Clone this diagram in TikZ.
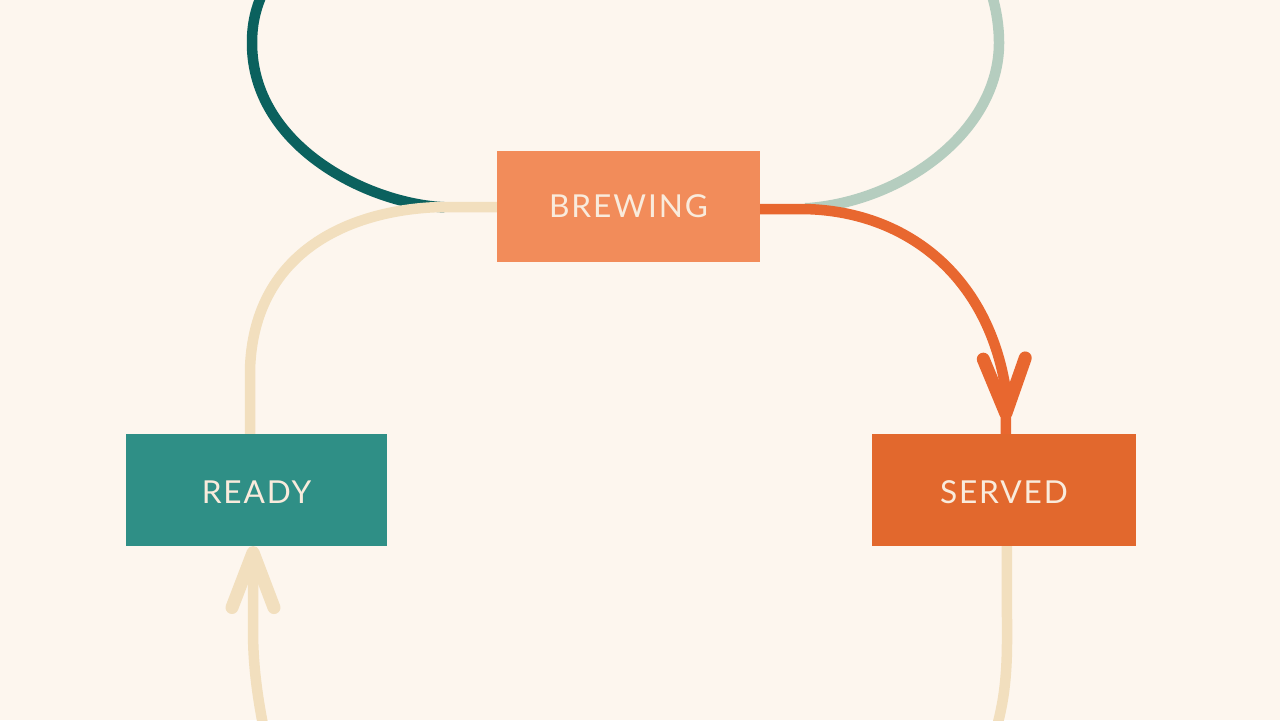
\documentclass[tikz,border=0pt]{standalone}
\usepackage{fontspec}
\setmainfont{Lato}[LetterSpace=6]
\usetikzlibrary{arrows.meta,positioning}
\definecolor{paper}{HTML}{FDF6EE}
\definecolor{tealbox}{HTML}{2F8F86}
\definecolor{brewbox}{HTML}{F28C5A}
\definecolor{servebox}{HTML}{E2682D}
\definecolor{labeltext}{HTML}{F9EBDC}
\definecolor{tealline}{HTML}{0B615E}
\definecolor{sageline}{HTML}{B5CDBF}
\definecolor{creamline}{HTML}{F2DFBE}
\definecolor{orangeline}{HTML}{E8672F}
\tikzset{
 statebox/.style={rectangle,text=labeltext,minimum height=2.23cm,minimum width=5.25cm,
  font=\fontsize{18}{22}\selectfont},
 lowlabel/.style={text height=15.8pt,text depth=0pt},
 flow/.style={line width=0.21cm},
 barb/.style={-{Straight Barb[round,length=1.1cm,width=0.84cm,line width=0.26cm]}}
}
\begin{document}
\begin{tikzpicture}[x=0.02cm,y=-0.02cm,node distance=2cm,on grid]
 \fill[paper] (0,0) rectangle (1280,720);
 \useasboundingbox (0,0) rectangle (1280,720);
 \node[statebox,fill=brewbox] (brewing) at (628.5,206.5) {BREWING};
 \node[statebox,lowlabel,fill=tealbox,minimum width=5.22cm] (ready) [below left=5.67cm and 7.44cm of brewing] {READY};
 \node[statebox,lowlabel,fill=servebox,minimum width=5.28cm] (served) [below right=5.67cm and 7.51cm of brewing] {SERVED};
 % free ends past the page edge
 \coordinate (tealleft) at (252,43);
 \coordinate (tealtop) at (263,-8);
 \coordinate (sageright) at (999,43);
 \coordinate (sagetop) at (991,-8);
 \coordinate (readyfoot) at (264,730);
 \coordinate (servedfoot) at (996,730);
 \coordinate (servedtip) at (1006,420);
 \coordinate (servedstem) at (1006,405);
 % loops over the top
 \draw[flow,tealline,shorten <=1.05cm] ([yshift=-0.01cm]brewing.west) -- (440,207) .. controls (365,202) and (252,145) .. (tealleft)
  .. controls (252,25) and (255,10) .. (tealtop);
 \draw[flow,sageline,shorten <=0.9cm] ([yshift=-0.05cm]brewing.east) -- (810,208) .. controls (905,200) and (999,130) .. (sageright)
  .. controls (999,25) and (996,8) .. (sagetop);
 % ready back up to brewing
 \draw[flow,creamline] ([xshift=-0.13cm]ready.north) -- (250,370) .. controls (253,255) and (345,210) .. (440,207) -- ([yshift=-0.01cm]brewing.west);
 % brewing down to served
 \draw[flow,orangeline,barb] ([yshift=-0.05cm]brewing.east) -- (800,209) .. controls (900,209) and (985,270) .. (1005,385) -- (servedtip);
 \draw[flow,orangeline] (servedstem) -- ([xshift=0.04cm]served.north);
 % served round to ready
 \draw[flow,creamline] ([xshift=0.06cm]served.south) -- (1007,640) .. controls (1007,680) and (1003,705) .. (servedfoot);
 \draw[flow,creamline,barb] (readyfoot) .. controls (256,690) and (253,660) .. (253,630) -- (253,600) -- ([xshift=-0.07cm]ready.south);
\end{tikzpicture}
\end{document}
